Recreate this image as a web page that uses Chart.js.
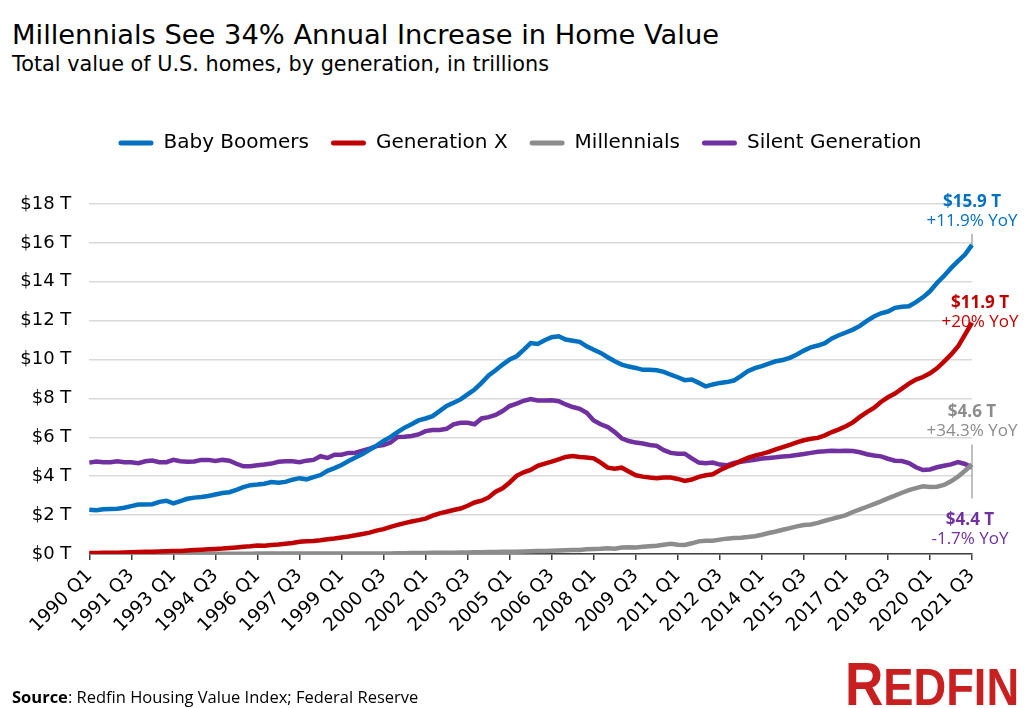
<!DOCTYPE html>
<html>
<head>
<meta charset="utf-8">
<script src="https://cdn.jsdelivr.net/npm/chart.js@4.4.0/dist/chart.umd.min.js"></script>
<style>
  html, body { margin: 0; padding: 0; background: #fff; }
  body { width: 1024px; height: 708px; position: relative; overflow: hidden; font-family: 'DejaVu Sans', sans-serif; color: #000; }
  #chart { position: absolute; left: 0; top: 0; }
  .txt { position: absolute; white-space: nowrap; line-height: 1; }
  #title { left: 12px; top: 21px; font-size: 27.3px; }
  #subtitle { left: 12px; top: 54px; font-size: 20.8px; }
  #source { left: 12px; top: 689px; font-size: 16.5px; font-family: 'Open Sans', sans-serif; }
  #logo { left: 845px; top: 654px; color: #c82021; font-family: 'Liberation Sans', sans-serif; font-weight: bold; transform: scaleX(0.87); transform-origin: left top; }
  #logo .big { font-size: 61px; }
  #logo .small { font-size: 52px; }
</style>
</head>
<body>
<div class="txt" id="title">Millennials See 34% Annual Increase in Home Value</div>
<div class="txt" id="subtitle">Total value of U.S. homes, by generation, in trillions</div>
<canvas id="chart" width="1024" height="708"></canvas>
<div class="txt" id="source"><b>Source</b>: Redfin Housing Value Index; Federal Reserve</div>
<div class="txt" id="logo"><span class="big">R</span><span class="small">EDFIN</span></div>
<script>
{ // scoping

// quarters 1990 Q1 .. 2021 Q3
const quarterLabels = [];
for (let y = 1990; y <= 2021; y++) {
  for (let q = 1; q <= 4; q++) {
    if (y === 2021 && q > 3) break;
    quarterLabels.push(y + ' Q' + q);
  }
}
const tickEvery = 6;

const seriesNames = ['Baby Boomers', 'Generation X', 'Millennials', 'Silent Generation'];
const seriesColors = ['#0070c0', '#c00000', '#8c8c8c', '#7030a0'];

// total home value, trillions of dollars
const babyBoomers = [
  2.28, 2.25, 2.30, 2.32, 2.33, 2.38, 2.46, 2.54, 2.55, 2.56, 2.68, 2.74, 2.60, 2.72, 2.84, 2.90,
  2.93, 2.98, 3.06, 3.14, 3.18, 3.30, 3.44, 3.54, 3.57, 3.61, 3.70, 3.66, 3.71, 3.82, 3.90, 3.84,
  3.95, 4.06, 4.28, 4.42, 4.58, 4.78, 4.96, 5.14, 5.36, 5.57, 5.81, 6.02, 6.27, 6.50, 6.67, 6.87,
  6.97, 7.09, 7.35, 7.61, 7.78, 7.95, 8.21, 8.46, 8.80, 9.18, 9.45, 9.74, 10.00, 10.17, 10.50, 10.85,
  10.80, 10.99, 11.15, 11.20, 11.03, 10.97, 10.91, 10.68, 10.50, 10.34, 10.12, 9.91, 9.74, 9.64, 9.57, 9.47,
  9.47, 9.45, 9.37, 9.22, 9.09, 8.94, 8.97, 8.80, 8.62, 8.72, 8.80, 8.84, 8.92, 9.15, 9.40, 9.56,
  9.66, 9.79, 9.91, 9.98, 10.09, 10.26, 10.46, 10.63, 10.72, 10.84, 11.09, 11.25, 11.39, 11.54, 11.73, 11.99,
  12.21, 12.38, 12.47, 12.66, 12.72, 12.74, 12.95, 13.20, 13.51, 13.94, 14.30, 14.70, 15.06, 15.40, 15.90
];
const generationX = [
  0.05, 0.05, 0.06, 0.06, 0.07, 0.08, 0.09, 0.10, 0.11, 0.12, 0.13, 0.14, 0.15, 0.16, 0.18, 0.20,
  0.22, 0.24, 0.26, 0.28, 0.31, 0.34, 0.37, 0.40, 0.44, 0.42, 0.46, 0.49, 0.53, 0.57, 0.63, 0.66,
  0.67, 0.71, 0.76, 0.80, 0.85, 0.90, 0.96, 1.03, 1.10, 1.20, 1.28, 1.40, 1.50, 1.59, 1.67, 1.74,
  1.82, 1.97, 2.09, 2.17, 2.26, 2.34, 2.48, 2.65, 2.74, 2.91, 3.20, 3.38, 3.68, 4.02, 4.20, 4.32,
  4.53, 4.65, 4.75, 4.87, 4.99, 5.04, 4.99, 4.96, 4.92, 4.70, 4.44, 4.39, 4.44, 4.24, 4.05, 3.98,
  3.93, 3.90, 3.93, 3.93, 3.86, 3.76, 3.83, 3.97, 4.05, 4.10, 4.31, 4.48, 4.62, 4.79, 4.94, 5.06,
  5.15, 5.25, 5.38, 5.50, 5.61, 5.74, 5.85, 5.93, 5.97, 6.10, 6.27, 6.41, 6.57, 6.77, 7.05, 7.30,
  7.51, 7.82, 8.06, 8.25, 8.50, 8.76, 8.97, 9.10, 9.29, 9.55, 9.89, 10.25, 10.67, 11.28, 11.90
];
const millennials = [
  0.00, 0.00, 0.00, 0.00, 0.00, 0.00, 0.00, 0.00, 0.00, 0.00, 0.00, 0.00, 0.01, 0.01, 0.01, 0.01,
  0.01, 0.01, 0.01, 0.01, 0.01, 0.01, 0.01, 0.01, 0.02, 0.02, 0.02, 0.02, 0.02, 0.02, 0.02, 0.02,
  0.02, 0.02, 0.02, 0.02, 0.03, 0.03, 0.03, 0.03, 0.03, 0.03, 0.03, 0.03, 0.04, 0.04, 0.05, 0.05,
  0.05, 0.06, 0.06, 0.07, 0.07, 0.08, 0.08, 0.09, 0.09, 0.10, 0.10, 0.11, 0.11, 0.12, 0.13, 0.14,
  0.15, 0.16, 0.17, 0.18, 0.19, 0.20, 0.21, 0.24, 0.26, 0.27, 0.30, 0.27, 0.33, 0.35, 0.34, 0.37,
  0.40, 0.42, 0.48, 0.53, 0.48, 0.46, 0.55, 0.65, 0.68, 0.68, 0.74, 0.79, 0.82, 0.84, 0.87, 0.91,
  0.99, 1.08, 1.16, 1.25, 1.33, 1.42, 1.49, 1.52, 1.60, 1.71, 1.81, 1.90, 2.00, 2.16, 2.30, 2.43,
  2.57, 2.71, 2.86, 3.00, 3.15, 3.29, 3.39, 3.48, 3.44, 3.46, 3.55, 3.74, 3.98, 4.28, 4.60
];
const silentGeneration = [
  4.70, 4.76, 4.72, 4.72, 4.77, 4.72, 4.72, 4.67, 4.77, 4.81, 4.72, 4.72, 4.84, 4.77, 4.74, 4.76,
  4.84, 4.84, 4.79, 4.84, 4.80, 4.64, 4.51, 4.51, 4.56, 4.60, 4.65, 4.74, 4.77, 4.77, 4.72, 4.80,
  4.84, 5.03, 4.94, 5.11, 5.11, 5.20, 5.21, 5.32, 5.42, 5.55, 5.60, 5.73, 6.02, 6.03, 6.07, 6.15,
  6.32, 6.38, 6.38, 6.44, 6.67, 6.75, 6.75, 6.67, 6.97, 7.04, 7.15, 7.35, 7.61, 7.73, 7.88, 7.97,
  7.90, 7.90, 7.91, 7.86, 7.69, 7.56, 7.47, 7.26, 6.87, 6.67, 6.53, 6.27, 5.95, 5.81, 5.73, 5.68,
  5.61, 5.56, 5.34, 5.20, 5.16, 5.16, 4.92, 4.70, 4.67, 4.70, 4.60, 4.56, 4.68, 4.74, 4.79, 4.84,
  4.91, 4.94, 4.97, 5.01, 5.04, 5.09, 5.14, 5.20, 5.26, 5.28, 5.31, 5.30, 5.31, 5.30, 5.23, 5.13,
  5.07, 5.02, 4.90, 4.80, 4.78, 4.68, 4.46, 4.32, 4.35, 4.46, 4.54, 4.61, 4.73, 4.63, 4.45
];
const seriesValues = [babyBoomers, generationX, millennials, silentGeneration];

// end-of-line callouts
const endValueText = ['$15.9 T', '$11.9 T', '$4.6 T', '$4.4 T'];
const endChangeText = ['+11.9% YoY', '+20% YoY', '+34.3% YoY', '-1.7% YoY'];

const yTicks = { min: 0, max: 18, step: 2 };

const fontFamily = "'DejaVu Sans', sans-serif";
const calloutFont = "'Open Sans', sans-serif";

// callout offsets from the last point: [dx, dyValue, dyChange, leaderFrom, leaderTo]
const calloutLayout = [
  [0, -43, -24, -11, 0],
  [8, -19, 0, null, null],
  [0, -52, -33, -20, 0],
  [-2, 53, 72, 0, 31]
];

const legendTweak = {
  id: 'legendTweak',
  beforeInit(chart) {
    const origFit = chart.legend.fit;
    chart.legend.fit = function fit() {
      origFit.bind(chart.legend)();
      this.height += 41;
    };
  },
  afterLayout(chart) {
    // legend sits a little right of the canvas centre
    chart.legend.left += 34;
    chart.legend.right += 34;
  }
};

const endLabels = {
  id: 'endLabels',
  afterDatasetsDraw(chart) {
    const ctx = chart.ctx;
    ctx.save();
    ctx.textAlign = 'center';
    ctx.textBaseline = 'middle';
    seriesValues.forEach((vals, i) => {
      const pt = chart.getDatasetMeta(i).data[vals.length - 1];
      const [dx, dyV, dyC, l0, l1] = calloutLayout[i];
      if (l0 !== null) {
        ctx.strokeStyle = '#808080';
        ctx.lineWidth = 1;
        ctx.beginPath();
        ctx.moveTo(pt.x, pt.y + l0);
        ctx.lineTo(pt.x, pt.y + l1);
        ctx.stroke();
      }
      ctx.fillStyle = seriesColors[i];
      ctx.font = 'bold 17px ' + calloutFont;
      ctx.fillText(endValueText[i], pt.x + dx, pt.y + dyV);
      ctx.font = '17px ' + calloutFont;
      ctx.fillText(endChangeText[i], pt.x + dx, pt.y + dyC);
    });
    ctx.restore();
  }
};

const ctx = document.getElementById('chart').getContext('2d');

const myChart = new Chart(ctx, {
  type: 'line',
  data: {
    labels: quarterLabels,
    datasets: seriesNames.map((name, i) => ({
      label: name,
      data: seriesValues[i],
      borderColor: seriesColors[i],
      backgroundColor: seriesColors[i],
      borderWidth: 4.5,
      pointRadius: 0,
      tension: 0,
      fill: false
    }))
  },
  options: {
    responsive: false,
    animation: false,
    layout: { padding: { top: 111, right: 52, bottom: 0, left: 0 } },
    plugins: {
      tooltip: { enabled: false },
      legend: {
        position: 'top',
        labels: {
          boxWidth: 35,
          boxHeight: 5,
          padding: 22,
          color: '#000',
          useBorderRadius: true,
          borderRadius: 2.5,
          font: { family: fontFamily, size: 20 },
          generateLabels(chart) {
            const items = Chart.defaults.plugins.legend.labels.generateLabels(chart);
            items.forEach(it => { it.lineWidth = 0; it.fillStyle = it.strokeStyle; });
            return items;
          }
        }
      }
    },
    scales: {
      x: {
        grid: { display: true, drawOnChartArea: false, drawTicks: true, tickLength: 6, color: '#404040', lineWidth: 1.5 },
        border: { display: true, color: '#404040', width: 1.5 },
        ticks: {
          autoSkip: false,
          minRotation: 45,
          maxRotation: 45,
          padding: 5,
          color: '#000',
          font: { family: fontFamily, size: 18.5 }
        },
        afterBuildTicks(scale) {
          scale.ticks = scale.ticks.filter(t => t.value % tickEvery === 0);
        },
        afterFit(scale) { scale.height = 154; }
      },
      y: {
        min: yTicks.min,
        max: yTicks.max,
        grid: { color: '#d9d9d9', lineWidth: 1.5, drawTicks: false },
        border: { display: false },
        ticks: {
          stepSize: yTicks.step,
          padding: 18,
          color: '#000',
          font: { family: fontFamily, size: 18 },
          callback: v => '$' + v + ' T'
        },
        afterFit(scale) { scale.width = 89.3; }
      }
    }
  },
  plugins: [legendTweak, endLabels]
});

} // scoping
</script>
</body>
</html>
